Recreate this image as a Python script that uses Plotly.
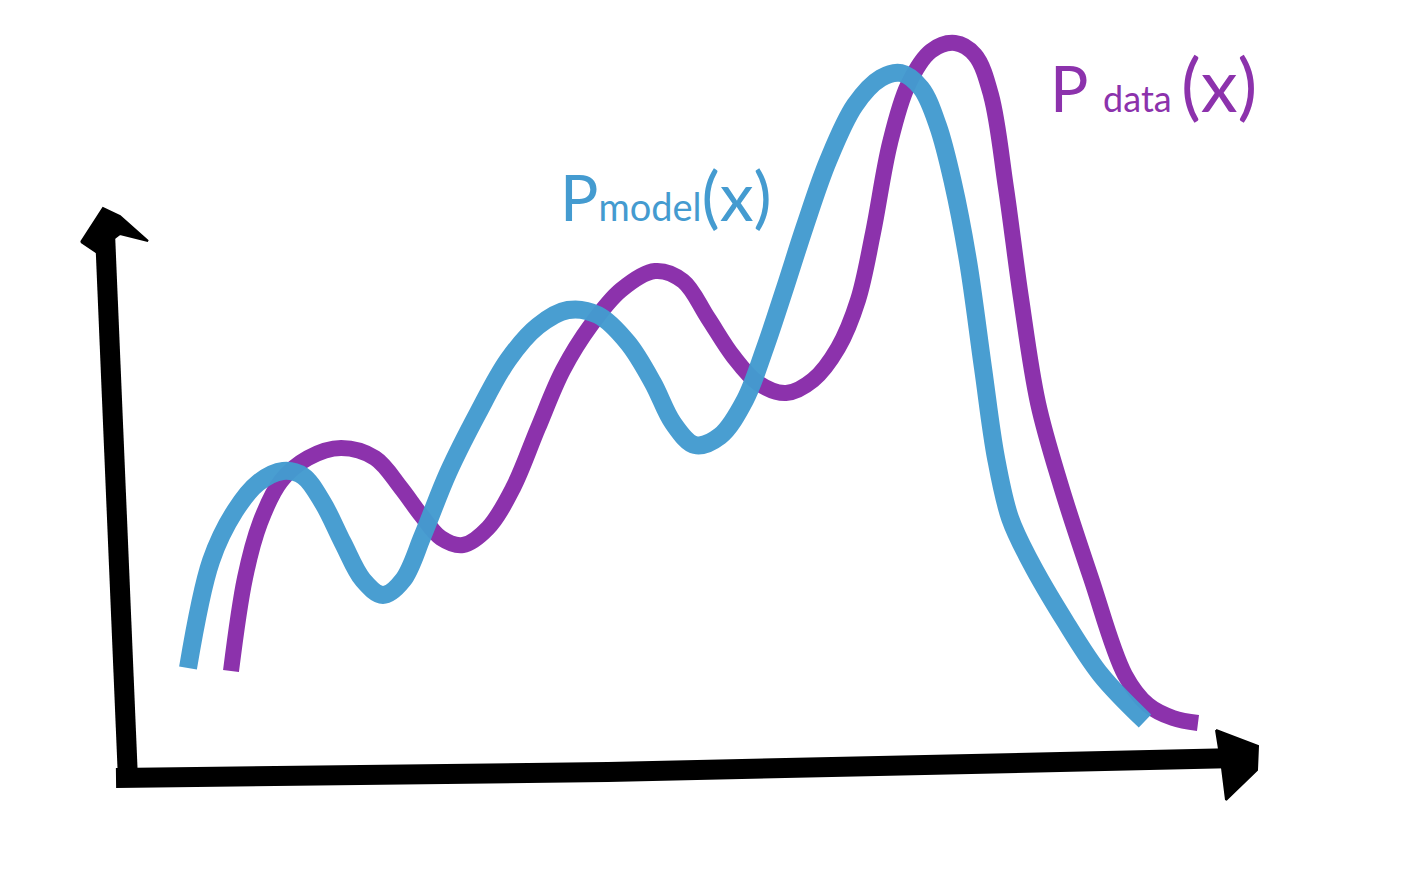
import plotly.graph_objects as go

H = 884
model_x = [180, 203, 227, 250, 275, 295, 315, 335, 355, 375, 395, 415, 440, 470, 500, 530, 560, 590, 620, 645, 665, 687, 712, 737, 757, 777, 797, 820, 847, 873, 893, 913, 930, 945, 960, 975, 988, 1002, 1022, 1057, 1093, 1137]
model_py = [660, 553, 503, 475, 463, 468, 495, 535, 572, 587, 572, 527, 465, 405, 352, 318, 302, 307, 335, 375, 415, 437, 428, 392, 340, 280, 218, 153, 97, 70, 65, 80, 118, 175, 253, 360, 450, 510, 553, 613, 667, 713]

data_x = [223, 237, 252, 273, 300, 333, 367, 393, 413, 433, 455, 480, 505, 530, 555, 583, 613, 647, 675, 700, 725, 750, 778, 805, 830, 850, 865, 882, 900, 923, 947, 967, 983, 998, 1013, 1030, 1053, 1083, 1117, 1140, 1165, 1190]
data_py = [663, 570, 515, 473, 450, 440, 450, 480, 507, 530, 537, 520, 480, 420, 362, 317, 282, 263, 273, 310, 348, 375, 385, 372, 340, 292, 225, 135, 77, 43, 35, 47, 87, 180, 290, 395, 478, 570, 667, 697, 710, 715]

# Hand-drawn axes and arrowheads
yaxis_line_x = [120, 112, 100, 97]
yaxis_line_py = [772, 600, 330, 225]
xaxis_line_x = [108, 600, 1230]
xaxis_line_py = [770, 764, 750]
yhead_x = [73, 95, 112, 140, 112, 88, 73]
yhead_py = [234, 200, 208, 233, 226, 244, 234]
xhead_x = [1208, 1250, 1249, 1218, 1214, 1208]
xhead_py = [722, 738, 762, 792, 760, 722]

BLUE = "rgb(68,155,208)"
PURPLE = "rgb(140,50,172)"


def flip(v):
    return [H - p for p in v]


fig = go.Figure()
fig.add_trace(go.Scatter(x=data_x, y=flip(data_py), mode="lines",
                         line=dict(color=PURPLE, width=16, shape="spline", smoothing=1.0), hoverinfo="skip"))
fig.add_trace(go.Scatter(x=model_x, y=flip(model_py), mode="lines",
                         line=dict(color=BLUE, width=18, shape="spline", smoothing=1.0), hoverinfo="skip",
                         opacity=0.97))
fig.add_trace(go.Scatter(x=yaxis_line_x, y=flip(yaxis_line_py), mode="lines",
                         line=dict(color="black", width=20), hoverinfo="skip"))
fig.add_trace(go.Scatter(x=xaxis_line_x, y=flip(xaxis_line_py), mode="lines",
                         line=dict(color="black", width=20), hoverinfo="skip"))
fig.add_trace(go.Scatter(x=yhead_x, y=flip(yhead_py), mode="lines", fill="toself",
                         fillcolor="black", line=dict(color="black", width=2), hoverinfo="skip"))
fig.add_trace(go.Scatter(x=xhead_x, y=flip(xhead_py), mode="lines", fill="toself",
                         fillcolor="black", line=dict(color="black", width=2), hoverinfo="skip"))

fig.add_annotation(x=550, y=H - 186, xref="x", yref="y", xanchor="left", yanchor="middle",
                   showarrow=False,
                   text="<span style='font-size:64px'>P</span><span style='font-size:38px'>model</span><span style='font-size:68px'>(x)</span>",
                   font=dict(family="Lato", color=BLUE, size=40))
fig.add_annotation(x=1040, y=H - 75, xref="x", yref="y", xanchor="left", yanchor="middle",
                   showarrow=False,
                   text="<span style='font-size:64px'>P </span><span style='font-size:36px'>data </span><span style='font-size:74px'>(x)</span>",
                   font=dict(family="Lato", color=PURPLE, size=40))

fig.update_layout(width=1424, height=884, margin=dict(l=0, r=0, t=0, b=0),
                  paper_bgcolor="white", plot_bgcolor="white", showlegend=False,
                  xaxis=dict(range=[0, 1424], visible=False, fixedrange=True),
                  yaxis=dict(range=[0, H], visible=False, fixedrange=True))
fig.write_html("out.html")
